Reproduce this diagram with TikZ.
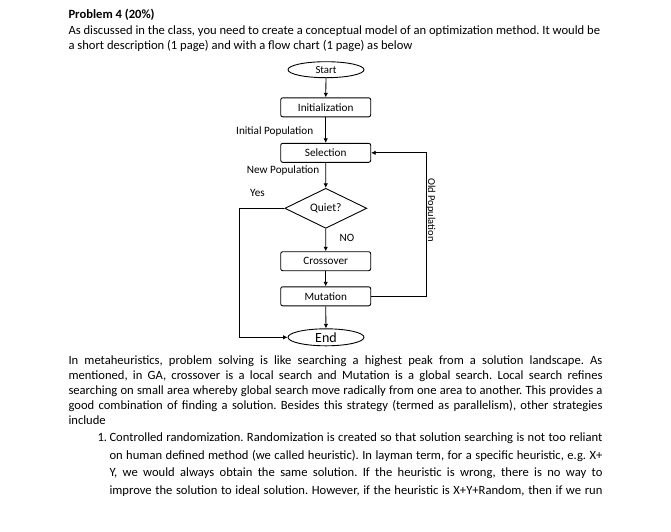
\documentclass[tikz,border=0pt]{standalone}
\usepackage{fontspec}
\setmainfont{Carlito}
\usetikzlibrary{shapes.geometric,arrows.meta}
\newcommand\jline[2]{\hbox to #1{#2}}
\begin{document}
\frenchspacing
\begin{tikzpicture}[x=1pt,y=-1pt,
  body/.style={anchor=base west, inner sep=0, font=\fontsize{12.6}{15}\selectfont\frenchspacing},
  box/.style={draw, rounded corners=2pt, minimum width=90pt, minimum height=19pt, inner sep=0, line width=0.9pt, font=\fontsize{11.2}{13}\selectfont},
  oval/.style={draw, ellipse, minimum width=76pt, minimum height=16pt, inner sep=0, line width=0.9pt},
  dec/.style={draw, diamond, aspect=2, minimum width=82pt, minimum height=40pt, inner sep=0, line width=0.9pt, font=\fontsize{11.5}{13}\selectfont},
  arr/.style={-{Latex[length=4.5pt,width=4.5pt]}, line width=0.8pt},
  lbl/.style={anchor=west, inner sep=0, font=\fontsize{11.2}{13}\selectfont}]
\useasboundingbox (0,0) rectangle (671,531);
\fill[white] (0,0) rectangle (671,531);

% header
\node[body] (h1) at (68.3,18.3) {\textbf{Problem 4 (20\%)}};
\node[body] (h2) at (68.3,34.3) {As discussed in the class, you need to create a conceptual model of an optimization method. It would be};
\node[body] (h3) at (68.3,49.3) {a short description (1 page) and with a flow chart (1 page) as below};

% flow chart
\node[oval, font=\fontsize{10.8}{12}\selectfont] (start) at (326,69.7) {Start};
\node[box] (init) at (325.7,107.3) {Initialization};
\node[box] (sel) at (325.7,152.8) {Selection};
\node[dec] (quiet) at (325.8,208.3) {Quiet?};
\node[box] (cross) at (325.7,261.2) {Crossover};
\node[box] (mut) at (325.7,296.3) {Mutation};
\node[oval, minimum height=17pt, font=\fontsize{14}{16}\selectfont] (end) at (326,337.3) {End};

\coordinate (yesc) at (239.3,208.3);
\coordinate (oldc) at (426.7,296.3);

\draw[arr] (start) -- (init);
\draw[arr] (init) -- (sel);
\draw[arr] (sel) -- (quiet);
\draw[arr] (quiet) -- (cross);
\draw[arr] (cross) -- (mut);
\draw[arr] (mut) -- (end);
\draw[arr] (quiet.west) -- (yesc) |- (end.west);
\draw[arr] (mut.east) -- (oldc) |- (sel.east);

\node[lbl] (lip) at (236,132) {Initial Population};
\node[lbl] (lnp) at (246.7,171) {New Population};
\node[lbl] (lyes) at (250,192.7) {Yes};
\node[lbl] (lno) at (339.5,237.7) {NO};
\node[inner sep=0, rotate=-90, font=\fontsize{10.5}{12}\selectfont] (lop) at (431,210) {Old Population};

% paragraph
\node[body] (p1) at (68.3,364.3) {\jline{534pt}{In metaheuristics, problem solving is like searching a highest peak from a solution landscape. As}};
\node[body] (p2) at (68.3,379.3) {\jline{534pt}{mentioned, in GA, crossover is a local search and Mutation is a global search. Local search refines}};
\node[body] (p3) at (68.3,394.3) {\jline{534pt}{searching on small area whereby global search move radically from one area to another. This provides a}};
\node[body] (p4) at (68.3,409.3) {\jline{534pt}{good combination of finding a solution. Besides this strategy (termed as parallelism), other strategies}};
\node[body] (p5) at (68.3,424.3) {include};

% list
\node[body] (n1) at (97.3,441.7) {1.};
\node[body] (l1) at (109.3,441.7) {\jline{493pt}{Controlled randomization. Randomization is created so that solution searching is not too reliant}};
\node[body] (l2) at (109.3,459.2) {\jline{493pt}{on human defined method (we called heuristic). In layman term, for a specific heuristic, e.g. X+}};
\node[body] (l3) at (109.3,476.7) {\jline{493pt}{Y, we would always obtain the same solution. If the heuristic is wrong, there is no way to}};
\node[body] (l4) at (109.3,494.2) {\jline{493pt}{improve the solution to ideal solution. However, if the heuristic is X+Y+Random, then if we run}};
\end{tikzpicture}
\end{document}
